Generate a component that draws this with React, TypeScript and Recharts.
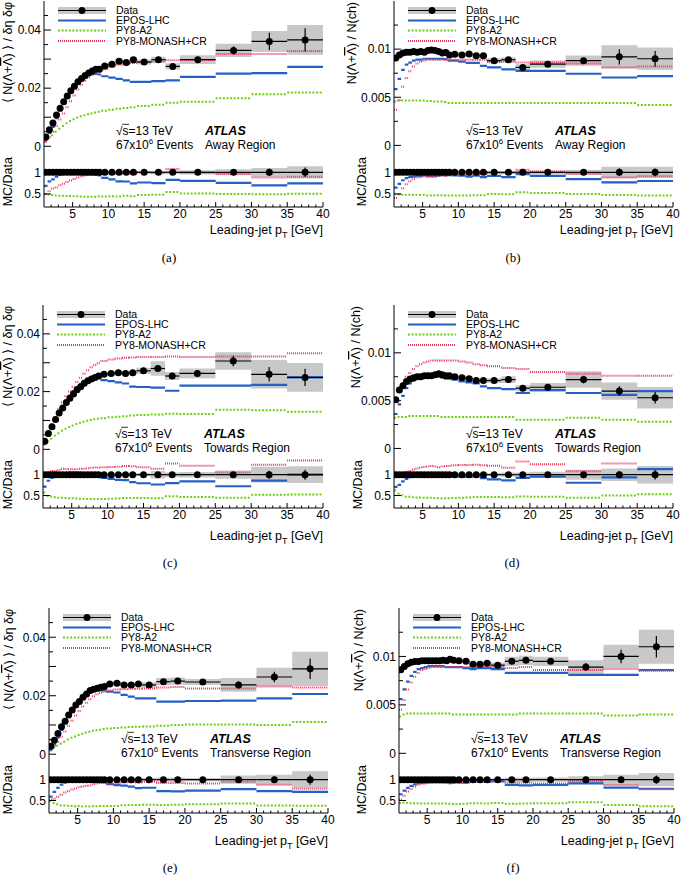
import React from 'react';
import { ComposedChart, Line, Scatter, Area, XAxis, YAxis, ErrorBar, Legend } from 'recharts';

const FONT = '"Liberation Sans", Arial, Helvetica, sans-serif';
const SERIF = '"Liberation Serif", "Times New Roman", serif';

const EPOS_C = '#2560c8';
const A2_C = '#6ccf14';
const MON_C = '#e8385e';
const BAND_C = '#c8c8c8';

// ---- binning (leading-jet pT, GeV) ----
const binEdges = [1, 1.5, 2, 2.5, 3, 3.5, 4, 4.5, 5, 5.5, 6, 6.5, 7, 7.5, 8, 8.5, 9, 10, 11, 12, 13, 14, 16, 18, 20, 25, 30, 35, 40];

// ---- ticks ----
const xTickValues = [2, 3, 4, 5, 6, 7, 8, 9, 10, 11, 12, 13, 14, 15, 16, 17, 18, 19, 20, 21, 22, 23, 24, 25, 26, 27, 28, 29, 30, 31, 32, 33, 34, 35, 36, 37, 38, 39, 40];
const xTickLabels = [5, 10, 15, 20, 25, 30, 35, 40];
const densYTicks = [0, 0.005, 0.01, 0.015, 0.02, 0.025, 0.03, 0.035, 0.04, 0.045];
const densYMajor = [0, 0.01, 0.02, 0.03, 0.04];
const densYLabels = [0, 0.02, 0.04];
const fracYTicks = [0, 0.0025, 0.005, 0.0075, 0.01, 0.0125];
const fracYMajor = [0, 0.005, 0.01];
const fracYLabels = [0, 0.005, 0.01];
const ratioYTicks = [0.5, 1];
const ratioYLabels = [0.5, 1];

const legendLabels = ['Data', 'EPOS-LHC', 'PY8-A2', 'PY8-MONASH+CR'];

// ---- (a) Away, density ----
const awayDensData = [0.0032, 0.0057, 0.0080, 0.0108, 0.0131, 0.0153, 0.0173, 0.0191, 0.0207, 0.0222, 0.0233, 0.0244, 0.0252, 0.0259, 0.0265, 0.0265, 0.0276, 0.0282, 0.0293, 0.0288, 0.0298, 0.0290, 0.0298, 0.0275, 0.0298, 0.0330, 0.0361, 0.0366];
const awayDensEpos = [0.0022, 0.0045, 0.0067, 0.0097, 0.0123, 0.0150, 0.0174, 0.0197, 0.0214, 0.0228, 0.0237, 0.0245, 0.0248, 0.0249, 0.0249, 0.0247, 0.0241, 0.0236, 0.0232, 0.0227, 0.0222, 0.0222, 0.0224, 0.0227, 0.0239, 0.0250, 0.0252, 0.0273];
const awayDensA2 = [0.0016, 0.0028, 0.0038, 0.0050, 0.0060, 0.0070, 0.0079, 0.0087, 0.0093, 0.0099, 0.0103, 0.0107, 0.0110, 0.0113, 0.0116, 0.0119, 0.0122, 0.0126, 0.0129, 0.0132, 0.0134, 0.0139, 0.0143, 0.0150, 0.0153, 0.0165, 0.0179, 0.0185];
const awayDensMonash = [0.0016, 0.0032, 0.0050, 0.0070, 0.0092, 0.0113, 0.0134, 0.0155, 0.0175, 0.0195, 0.0212, 0.0226, 0.0237, 0.0245, 0.0251, 0.0257, 0.0265, 0.0275, 0.0281, 0.0284, 0.0287, 0.0290, 0.0292, 0.0296, 0.0297, 0.0318, 0.0318, 0.0328];
const awayDensSys = [0.03, 0.03, 0.03, 0.03, 0.03, 0.03, 0.03, 0.03, 0.03, 0.03, 0.03, 0.03, 0.03, 0.03, 0.03, 0.03, 0.03, 0.03, 0.03, 0.03, 0.03, 0.03, 0.035, 0.04, 0.05, 0.07, 0.10, 0.14];
const awayDensStat = [0.0001, 0.0001, 0.0001, 0.0001, 0.0001, 0.0001, 0.0001, 0.0001, 0.0001, 0.0001, 0.0001, 0.0001, 0.0001, 0.0001, 0.0001, 0.0001, 0.0002, 0.0002, 0.0002, 0.0003, 0.0003, 0.0004, 0.0005, 0.0006, 0.0008, 0.0014, 0.0030, 0.0040];

// ---- (b) Away, fraction ----
const awayFracData = [0.00907, 0.0094, 0.0096, 0.00968, 0.00968, 0.00975, 0.00968, 0.00975, 0.00968, 0.00986, 0.0099, 0.00986, 0.00975, 0.0096, 0.00965, 0.0094, 0.00947, 0.0094, 0.0095, 0.0093, 0.0093, 0.0088, 0.0089, 0.0081, 0.00844, 0.0088, 0.0092, 0.0090];
const awayFracEpos = [0.00585, 0.0069, 0.00785, 0.0084, 0.0086, 0.0088, 0.0089, 0.0089, 0.0090, 0.0090, 0.0090, 0.0090, 0.0090, 0.0090, 0.00897, 0.0088, 0.0088, 0.0087, 0.00857, 0.00857, 0.00827, 0.0081, 0.0079, 0.00775, 0.00775, 0.00744, 0.00705, 0.0072];
const awayFracA2 = [0.00457, 0.00466, 0.00466, 0.00466, 0.00466, 0.00466, 0.00466, 0.00466, 0.00466, 0.0046, 0.0046, 0.00457, 0.00457, 0.00455, 0.0045, 0.0044, 0.0044, 0.0044, 0.0044, 0.0044, 0.0044, 0.0044, 0.0044, 0.0044, 0.0044, 0.0044, 0.0044, 0.0042];
const awayFracMonash = [0.0037, 0.0047, 0.0061, 0.0070, 0.0077, 0.0082, 0.0085, 0.0087, 0.0088, 0.0089, 0.0089, 0.0089, 0.0089, 0.0089, 0.0089, 0.0089, 0.0089, 0.0089, 0.0089, 0.0089, 0.0089, 0.0087, 0.0087, 0.0086, 0.0086, 0.0085, 0.0081, 0.0082];
const awayFracSys = [0.025, 0.025, 0.025, 0.025, 0.025, 0.025, 0.025, 0.025, 0.025, 0.025, 0.025, 0.025, 0.025, 0.025, 0.025, 0.025, 0.025, 0.025, 0.025, 0.025, 0.025, 0.03, 0.03, 0.04, 0.045, 0.06, 0.13, 0.13];
const awayFracStat = [0.00005, 0.00005, 0.00005, 0.00005, 0.00005, 0.00005, 0.00005, 0.00005, 0.00005, 0.00005, 0.00005, 0.00005, 0.00005, 0.00005, 0.00005, 0.00005, 0.00005, 0.00005, 0.00005, 0.0001, 0.0001, 0.0001, 0.0001, 0.00015, 0.0002, 0.0003, 0.0008, 0.0008];

// ---- (c) Towards, density ----
const towDensData = [0.0028, 0.0055, 0.0078, 0.0103, 0.0126, 0.0143, 0.0162, 0.0177, 0.0192, 0.0206, 0.0217, 0.0229, 0.0238, 0.0244, 0.0249, 0.0254, 0.0260, 0.0263, 0.0265, 0.0263, 0.0265, 0.0272, 0.0280, 0.0254, 0.0263, 0.0306, 0.0260, 0.0249];
const towDensEpos = [0.0020, 0.0047, 0.0072, 0.0100, 0.0126, 0.0146, 0.0168, 0.0186, 0.0202, 0.0216, 0.0226, 0.0236, 0.0243, 0.0246, 0.0248, 0.0247, 0.0240, 0.0236, 0.0232, 0.0228, 0.0217, 0.0216, 0.0214, 0.0203, 0.0221, 0.0221, 0.0223, 0.0249];
const towDensA2 = [0.0016, 0.0027, 0.0037, 0.0047, 0.0056, 0.0064, 0.0071, 0.0077, 0.0083, 0.0088, 0.0092, 0.0096, 0.0099, 0.0102, 0.0104, 0.0106, 0.0108, 0.0111, 0.0113, 0.0115, 0.0117, 0.0119, 0.0121, 0.0123, 0.0122, 0.0137, 0.0135, 0.0130];
const towDensMonash = [0.0029, 0.0058, 0.0085, 0.0112, 0.0140, 0.0163, 0.0184, 0.0200, 0.0217, 0.0233, 0.0248, 0.0262, 0.0274, 0.0284, 0.0292, 0.0298, 0.0306, 0.0311, 0.0315, 0.0317, 0.0318, 0.0320, 0.0320, 0.0322, 0.0320, 0.0322, 0.0322, 0.0333];
const towDensSys = [0.03, 0.03, 0.03, 0.03, 0.03, 0.03, 0.03, 0.03, 0.03, 0.03, 0.03, 0.03, 0.03, 0.03, 0.03, 0.03, 0.03, 0.03, 0.03, 0.03, 0.03, 0.04, 0.09, 0.055, 0.065, 0.10, 0.19, 0.20];
const towDensStat = [0.0001, 0.0001, 0.0001, 0.0001, 0.0001, 0.0001, 0.0001, 0.0001, 0.0001, 0.0001, 0.0001, 0.0001, 0.0001, 0.0001, 0.0001, 0.0001, 0.0002, 0.0002, 0.0002, 0.0003, 0.0003, 0.0004, 0.0005, 0.0005, 0.0006, 0.0018, 0.0025, 0.0030];

// ---- (d) Towards, fraction ----
const towFracData = [0.0051, 0.0061, 0.00655, 0.0070, 0.00725, 0.0074, 0.0075, 0.0075, 0.0076, 0.0076, 0.0076, 0.0077, 0.0078, 0.0077, 0.0076, 0.0076, 0.0075, 0.0074, 0.0073, 0.0071, 0.0071, 0.0071, 0.0072, 0.0063, 0.0064, 0.0072, 0.0060, 0.0053];
const towFracEpos = [0.0036, 0.0046, 0.0055, 0.0063, 0.0068, 0.0071, 0.0073, 0.0073, 0.0075, 0.0075, 0.0075, 0.0075, 0.0075, 0.0074, 0.0073, 0.0073, 0.0072, 0.0070, 0.0069, 0.0068, 0.0065, 0.0063, 0.0062, 0.0058, 0.0061, 0.0058, 0.0056, 0.0060];
const towFracA2 = [0.0032, 0.0033, 0.0033, 0.0033, 0.0034, 0.0034, 0.0034, 0.0034, 0.0034, 0.0034, 0.0034, 0.0034, 0.0034, 0.0033, 0.0033, 0.0033, 0.0033, 0.0033, 0.0033, 0.0033, 0.0033, 0.0033, 0.0033, 0.0030, 0.0030, 0.0032, 0.0030, 0.0028];
const towFracMonash = [0.0051, 0.0061, 0.0068, 0.0075, 0.0079, 0.0083, 0.0086, 0.0088, 0.0090, 0.0091, 0.0092, 0.0092, 0.0092, 0.0092, 0.0092, 0.0092, 0.0092, 0.0091, 0.0090, 0.0088, 0.0087, 0.0086, 0.0084, 0.0083, 0.0080, 0.0078, 0.0076, 0.0076];
const towFracSys = [0.03, 0.03, 0.03, 0.03, 0.03, 0.03, 0.03, 0.03, 0.03, 0.03, 0.03, 0.03, 0.03, 0.03, 0.03, 0.03, 0.03, 0.03, 0.03, 0.03, 0.03, 0.035, 0.05, 0.05, 0.07, 0.12, 0.15, 0.21];
const towFracStat = [0.00005, 0.00005, 0.00005, 0.00005, 0.00005, 0.00005, 0.00005, 0.00005, 0.00005, 0.00005, 0.00005, 0.00005, 0.00005, 0.00005, 0.00005, 0.00005, 0.00005, 0.00005, 0.00005, 0.0001, 0.0001, 0.0001, 0.0001, 0.00015, 0.0002, 0.0004, 0.0005, 0.0006];

// ---- (e) Transverse, density ----
const trDensData = [0.0027, 0.0048, 0.0071, 0.0094, 0.0113, 0.0134, 0.0151, 0.0168, 0.0180, 0.0195, 0.0206, 0.0218, 0.0222, 0.0226, 0.0229, 0.0232, 0.0240, 0.0243, 0.0237, 0.0237, 0.0240, 0.0237, 0.0248, 0.0250, 0.0247, 0.0237, 0.0264, 0.0292];
const trDensEpos = [0.0016, 0.0034, 0.0057, 0.0083, 0.0105, 0.0130, 0.0151, 0.0171, 0.0185, 0.0199, 0.0208, 0.0216, 0.0216, 0.0217, 0.0218, 0.0218, 0.0214, 0.0211, 0.0203, 0.0197, 0.0191, 0.0191, 0.0180, 0.0180, 0.0182, 0.0183, 0.0191, 0.0206];
const trDensA2 = [0.0013, 0.0021, 0.0029, 0.0036, 0.0043, 0.0050, 0.0056, 0.0061, 0.0066, 0.0070, 0.0074, 0.0077, 0.0080, 0.0082, 0.0084, 0.0086, 0.0088, 0.0090, 0.0091, 0.0093, 0.0094, 0.0095, 0.0097, 0.0100, 0.0102, 0.0102, 0.0100, 0.0110];
const trDensMonash = [0.0014, 0.0026, 0.0042, 0.0060, 0.0078, 0.0097, 0.0115, 0.0132, 0.0148, 0.0163, 0.0176, 0.0188, 0.0198, 0.0205, 0.0210, 0.0214, 0.0218, 0.0221, 0.0222, 0.0224, 0.0224, 0.0225, 0.0228, 0.0230, 0.0225, 0.0225, 0.0232, 0.0228];
const trDensSys = [0.03, 0.03, 0.03, 0.03, 0.03, 0.03, 0.03, 0.03, 0.03, 0.03, 0.03, 0.03, 0.03, 0.03, 0.03, 0.03, 0.03, 0.03, 0.03, 0.03, 0.03, 0.04, 0.05, 0.05, 0.04, 0.10, 0.12, 0.20];
const trDensStat = [0.0001, 0.0001, 0.0001, 0.0001, 0.0001, 0.0001, 0.0001, 0.0001, 0.0001, 0.0001, 0.0001, 0.0001, 0.0001, 0.0001, 0.0001, 0.0001, 0.0002, 0.0002, 0.0002, 0.0003, 0.0003, 0.0004, 0.0004, 0.0005, 0.0005, 0.0012, 0.0018, 0.0035];

// ---- (f) Transverse, fraction ----
const trFracData = [0.00862, 0.00897, 0.00924, 0.0094, 0.00948, 0.00948, 0.00955, 0.00955, 0.00955, 0.00955, 0.00955, 0.00955, 0.0096, 0.00955, 0.0097, 0.0096, 0.00955, 0.0095, 0.0092, 0.0092, 0.0093, 0.0091, 0.0095, 0.0096, 0.0095, 0.0089, 0.0100, 0.0110];
const trFracEpos = [0.0056, 0.0066, 0.0074, 0.0080, 0.0084, 0.0087, 0.0088, 0.0089, 0.0090, 0.0090, 0.0090, 0.0090, 0.0090, 0.0089, 0.0089, 0.0089, 0.0089, 0.0088, 0.0087, 0.0088, 0.0088, 0.0087, 0.0083, 0.0083, 0.0083, 0.0081, 0.0081, 0.0086];
const trFracA2 = [0.0038, 0.0040, 0.0041, 0.0041, 0.0041, 0.0041, 0.0041, 0.0041, 0.0041, 0.0041, 0.0041, 0.0041, 0.0041, 0.0041, 0.0041, 0.0040, 0.0040, 0.0040, 0.0040, 0.0040, 0.0040, 0.0040, 0.0040, 0.0041, 0.0041, 0.0041, 0.0039, 0.0040];
const trFracMonash = [0.0045, 0.0055, 0.0066, 0.0073, 0.0079, 0.0083, 0.0086, 0.0087, 0.0088, 0.0089, 0.0089, 0.0089, 0.0089, 0.0089, 0.0089, 0.0089, 0.0089, 0.0089, 0.0089, 0.0089, 0.0089, 0.0089, 0.0088, 0.0089, 0.0086, 0.0086, 0.0087, 0.0085];
const trFracSys = [0.025, 0.025, 0.025, 0.025, 0.025, 0.025, 0.025, 0.025, 0.025, 0.025, 0.025, 0.025, 0.025, 0.025, 0.025, 0.025, 0.025, 0.025, 0.025, 0.025, 0.025, 0.03, 0.05, 0.05, 0.05, 0.08, 0.12, 0.16];
const trFracStat = [0.00005, 0.00005, 0.00005, 0.00005, 0.00005, 0.00005, 0.00005, 0.00005, 0.00005, 0.00005, 0.00005, 0.00005, 0.00005, 0.00005, 0.00005, 0.00005, 0.00005, 0.00005, 0.00005, 0.0001, 0.0001, 0.0001, 0.0001, 0.00015, 0.0002, 0.0004, 0.0007, 0.0011];

type Kind = 'dens' | 'frac';
interface PanelCfg {
  letter: string;
  region: string;
  kind: Kind;
  L: number; R: number; T: number; M: number; B: number;
  titleX: number; ratioTitleX: number; xTitleY: number; labelX: number; labelY: number;
  data: number[]; epos: number[]; a2: number[]; monash: number[]; sys: number[]; stat: number[];
}

const panels: PanelCfg[] = [
  { letter: '(a)', region: 'Away Region', kind: 'dens', L: 44, R: 323, T: 1, M: 155, B: 207, titleX: 12, ratioTitleX: 12, xTitleY: 234, labelX: 169, labelY: 262,
    data: awayDensData, epos: awayDensEpos, a2: awayDensA2, monash: awayDensMonash, sys: awayDensSys, stat: awayDensStat },
  { letter: '(b)', region: 'Away Region', kind: 'frac', L: 394, R: 673, T: 1, M: 155, B: 207, titleX: 356, ratioTitleX: 366, xTitleY: 234, labelX: 513, labelY: 262,
    data: awayFracData, epos: awayFracEpos, a2: awayFracA2, monash: awayFracMonash, sys: awayFracSys, stat: awayFracStat },
  { letter: '(c)', region: 'Towards Region', kind: 'dens', L: 43, R: 323, T: 305, M: 458, B: 508, titleX: 12, ratioTitleX: 12, xTitleY: 540, labelX: 170, labelY: 567,
    data: towDensData, epos: towDensEpos, a2: towDensA2, monash: towDensMonash, sys: towDensSys, stat: towDensStat },
  { letter: '(d)', region: 'Towards Region', kind: 'frac', L: 394, R: 673, T: 305, M: 458, B: 508, titleX: 360, ratioTitleX: 362, xTitleY: 540, labelX: 512, labelY: 567,
    data: towFracData, epos: towFracEpos, a2: towFracA2, monash: towFracMonash, sys: towFracSys, stat: towFracStat },
  { letter: '(e)', region: 'Transverse Region', kind: 'dens', L: 49, R: 328, T: 608, M: 763, B: 813, titleX: 13, ratioTitleX: 12, xTitleY: 845, labelX: 170, labelY: 872,
    data: trDensData, epos: trDensEpos, a2: trDensA2, monash: trDensMonash, sys: trDensSys, stat: trDensStat },
  { letter: '(f)', region: 'Transverse Region', kind: 'frac', L: 399, R: 674, T: 608, M: 763, B: 813, titleX: 363, ratioTitleX: 366, xTitleY: 845, labelX: 513, labelY: 872,
    data: trFracData, epos: trFracEpos, a2: trFracA2, monash: trFracMonash, sys: trFracSys, stat: trFracStat },
];

const has = (list: number[], v: number) => list.some((t) => Math.abs(t - v) < 1e-9);
const fmt = (v: number) => (Math.abs(v) < 1e-12 ? '0' : String(parseFloat(v.toPrecision(6))));

type Side = 'left' | 'right' | 'top' | 'bottom';
function makeTick(side: Side, majors: number[], labels: number[], majLen: number, minLen: number) {
  return (props: any) => {
    const { x, y, payload } = props;
    const v = payload.value as number;
    const len = has(majors, v) ? majLen : minLen;
    let l: [number, number, number, number];
    if (side === 'bottom') l = [x, y, x, y - len];
    else if (side === 'top') l = [x, y, x, y + len];
    else if (side === 'left') l = [x, y, x + len, y];
    else l = [x, y, x - len, y];
    const lab = has(labels, v) ? fmt(v) : null;
    return (
      <g>
        <line x1={l[0]} y1={l[1]} x2={l[2]} y2={l[3]} stroke="#000" strokeWidth={1} />
        {lab !== null && side === 'left' && (
          <text x={x - 3} y={y} dy="0.36em" textAnchor="end" fontSize={12} fontFamily={FONT} fill="#000">{lab}</text>
        )}
        {lab !== null && side === 'bottom' && (
          <text x={x} y={y + 10.5} textAnchor="middle" fontSize={12} fontFamily={FONT} fill="#000">{lab}</text>
        )}
      </g>
    );
  };
}

const centers = binEdges.slice(0, -1).map((e, i) => (e + binEdges[i + 1]) / 2);
const halfW = binEdges.slice(0, -1).map((e, i) => (binEdges[i + 1] - e) / 2);

function segs(vals: number[]) {
  const out: any[] = [];
  vals.forEach((v, i) => {
    out.push({ x: binEdges[i], y: v });
    out.push({ x: binEdges[i + 1], y: v });
    out.push({ x: binEdges[i + 1], y: null });
  });
  return out;
}
function band(vals: number[], rel: number[]) {
  const out: any[] = [];
  vals.forEach((v, i) => {
    const b = [v * (1 - rel[i]), v * (1 + rel[i])];
    out.push({ x: binEdges[i], band: b });
    out.push({ x: binEdges[i + 1], band: b });
  });
  return out;
}

const Dot = (p: any) => <circle cx={p.cx} cy={p.cy} r={3.5} fill="#000" />;

function LegendBox() {
  const rows = [5.5, 15.5, 25.5, 36];
  return (
    <svg width={175} height={44} style={{ overflow: 'visible' }}>
      <rect x={2} y={rows[0] - 3.5} width={48} height={7} fill={BAND_C} />
      <line x1={2} x2={50} y1={rows[0]} y2={rows[0]} stroke="#000" strokeWidth={1.2} />
      <circle cx={26} cy={rows[0]} r={3.5} fill="#000" />
      <line x1={2} x2={50} y1={rows[1]} y2={rows[1]} stroke={EPOS_C} strokeWidth={2.2} />
      <line x1={2} x2={50} y1={rows[2]} y2={rows[2]} stroke={A2_C} strokeWidth={2} strokeDasharray="2 1.6" />
      <line x1={2} x2={50} y1={rows[3]} y2={rows[3]} stroke={MON_C} strokeWidth={2} strokeDasharray="1 1" />
      {legendLabels.map((t, i) => (
        <text key={t} x={60} y={rows[i] + 3.7} fontSize={10.5} fontFamily={FONT} fill="#000">{t}</text>
      ))}
    </svg>
  );
}

const LW = 50;
const PAD = 3;
const PADR = 12;

function PanelView({ p }: { p: PanelCfg }) {
  const plotW = p.R - p.L;
  const mainH = p.M - p.T;
  const ratH = p.B - p.M;
  const yDomain: [number, number] = p.kind === 'dens' ? [-0.003, 0.05] : [-0.001, 0.015];
  const yTicks = p.kind === 'dens' ? densYTicks : fracYTicks;
  const yMajor = p.kind === 'dens' ? densYMajor : fracYMajor;
  const yLabels = p.kind === 'dens' ? densYLabels : fracYLabels;
  const ones = p.data.map(() => 1);
  const rat = (arr: number[]) => arr.map((v, i) => v / p.data[i]);

  const mainPts = p.data.map((v, i) => ({ x: centers[i], y: v, ex: halfW[i], ey: p.stat[i] }));
  const ratPts = p.data.map((v, i) => ({ x: centers[i], y: 1, ex: halfW[i], ey: p.stat[i] / v }));

  const axes = (dom: [number, number], ticks: number[], majors: number[], labels: number[], xLabels: number[], xh: number) => [
    <XAxis key="xb" dataKey="x" type="number" domain={[1, 40]} allowDataOverflow ticks={xTickValues} interval={0} height={xh}
      tickSize={0} tickMargin={0} tickLine={false} axisLine={{ stroke: '#000', strokeWidth: 1 }} tick={makeTick('bottom', xTickLabels, xLabels, 5, 2.5)} />,
    <XAxis key="xt" xAxisId="top" orientation="top" dataKey="x" type="number" domain={[1, 40]} allowDataOverflow ticks={xTickValues} interval={0} height={0}
      tickSize={0} tickMargin={0} tickLine={false} axisLine={{ stroke: '#000', strokeWidth: 1 }} tick={makeTick('top', xTickLabels, [], 5, 2.5)} />,
    <YAxis key="yl" dataKey="y" type="number" domain={dom} allowDataOverflow ticks={ticks} interval={0} width={LW}
      tickSize={0} tickMargin={0} tickLine={false} axisLine={{ stroke: '#000', strokeWidth: 1 }} tick={makeTick('left', majors, labels, 7, 4)} />,
    <YAxis key="yr" yAxisId="right" orientation="right" dataKey="y" type="number" domain={dom} allowDataOverflow ticks={ticks} interval={0} width={0}
      tickSize={0} tickMargin={0} tickLine={false} axisLine={{ stroke: '#000', strokeWidth: 1 }} tick={makeTick('right', majors, [], 7, 4)} />,
  ];

  const series = (bandData: any[], e: number[], a: number[], m: number[], pts: any[]) => [
    <Area key="band" data={bandData} dataKey="band" type="linear" fill={BAND_C} fillOpacity={1} stroke="none" isAnimationActive={false} dot={false} activeDot={false} />,
    <Line key="a2" data={segs(a)} dataKey="y" type="linear" stroke={A2_C} strokeWidth={2} strokeDasharray="2 1.6" dot={false} activeDot={false} connectNulls={false} isAnimationActive={false} />,
    <Line key="ep" data={segs(e)} dataKey="y" type="linear" stroke={EPOS_C} strokeWidth={2.2} dot={false} activeDot={false} connectNulls={false} isAnimationActive={false} />,
    <Line key="mo" data={segs(m)} dataKey="y" type="linear" stroke={MON_C} strokeWidth={2} strokeDasharray="1 1" dot={false} activeDot={false} connectNulls={false} isAnimationActive={false} />,
    <Scatter key="dt" data={pts} dataKey="y" shape={Dot} isAnimationActive={false}>
      <ErrorBar dataKey="ex" direction="x" width={0} stroke="#000" strokeWidth={1.2} />
      <ErrorBar dataKey="ey" direction="y" width={0} stroke="#000" strokeWidth={1.2} />
    </Scatter>,
  ];

  return (
    <>
      <div style={{ position: 'absolute', left: p.L - LW, top: p.T - PAD }}>
        <ComposedChart width={LW + plotW + PADR} height={mainH + 2 * PAD} margin={{ top: PAD, right: PADR, bottom: PAD, left: 0 }}>
          {axes(yDomain, yTicks, yMajor, yLabels, [], 0)}
          {series(band(p.data, p.sys), p.epos, p.a2, p.monash, mainPts)}
          <Legend layout="vertical" align="center" verticalAlign="middle"
            wrapperStyle={{ position: 'absolute', left: LW + 12, top: PAD + 4, width: 175, height: 44 }}
            content={() => <LegendBox />} />
        </ComposedChart>
      </div>
      <div style={{ position: 'absolute', left: p.L - LW, top: p.M - PAD }}>
        <ComposedChart width={LW + plotW + PADR} height={ratH + PAD + 22} margin={{ top: PAD, right: PADR, bottom: 2, left: 0 }}>
          {axes([0.2, 1.4], ratioYTicks, ratioYTicks, ratioYLabels, xTickLabels, 20)}
          {series(band(ones, p.sys), rat(p.epos), rat(p.a2), rat(p.monash), ratPts)}
        </ComposedChart>
      </div>
    </>
  );
}

function Annotations({ p }: { p: PanelCfg }) {
  const ax = p.L + 72;
  const bx = p.L + 161;
  const y1 = p.M - 20.5;
  const y2 = p.M - 6.5;
  const mainTitle = p.kind === 'dens'
    ? (<>{'\u27E8 N(\u039B+'}<tspan textDecoration="overline" style={{ textDecoration: 'overline' }}>{'\u039B'}</tspan>{') \u27E9 / \u03B4\u03B7 \u03B4\u03C6'}</>)
    : (<>{'N(\u039B+'}<tspan textDecoration="overline" style={{ textDecoration: 'overline' }}>{'\u039B'}</tspan>{') / N(ch)'}</>);
  return (
    <g fontFamily={FONT} fill="#000">
      <text x={ax} y={y1} fontSize={12}>{'\u221As=13 TeV'}</text>
      <line x1={ax + 6.2} x2={ax + 13} y1={y1 - 10.2} y2={y1 - 10.2} stroke="#000" strokeWidth={0.8} />
      <text x={ax} y={y2} fontSize={12}>67x10<tspan dy={-5} fontSize={8}>6</tspan><tspan dy={5}> Events</tspan></text>
      <text x={bx} y={y1} fontSize={12.5} fontWeight="bold" fontStyle="italic">ATLAS</text>
      <text x={bx} y={y2} fontSize={12}>{p.region}</text>
      <text transform={`translate(${p.titleX},${p.T + 1}) rotate(-90)`} textAnchor="end" fontSize={12.5}>{mainTitle}</text>
      <text transform={`translate(${p.ratioTitleX},${p.M + 2}) rotate(-90)`} textAnchor="end" fontSize={12.5}>MC/Data</text>
      <text x={p.R} y={p.xTitleY} textAnchor="end" fontSize={12.5}>Leading-jet p<tspan dy={3.5} fontSize={9}>T</tspan><tspan dy={-3.5}> [GeV]</tspan></text>
      <text x={p.labelX} y={p.labelY} textAnchor="middle" fontSize={13} fontFamily={SERIF}>{p.letter}</text>
    </g>
  );
}

export default function App() {
  return (
    <div style={{ position: 'absolute', left: 0, top: 0, width: 685, height: 876, background: '#fff', overflow: 'hidden' }}>
      {panels.map((p) => (
        <PanelView key={p.letter} p={p} />
      ))}
      <svg width={685} height={876} style={{ position: 'absolute', left: 0, top: 0, pointerEvents: 'none' }}>
        {panels.map((p) => (
          <Annotations key={p.letter} p={p} />
        ))}
      </svg>
    </div>
  );
}
